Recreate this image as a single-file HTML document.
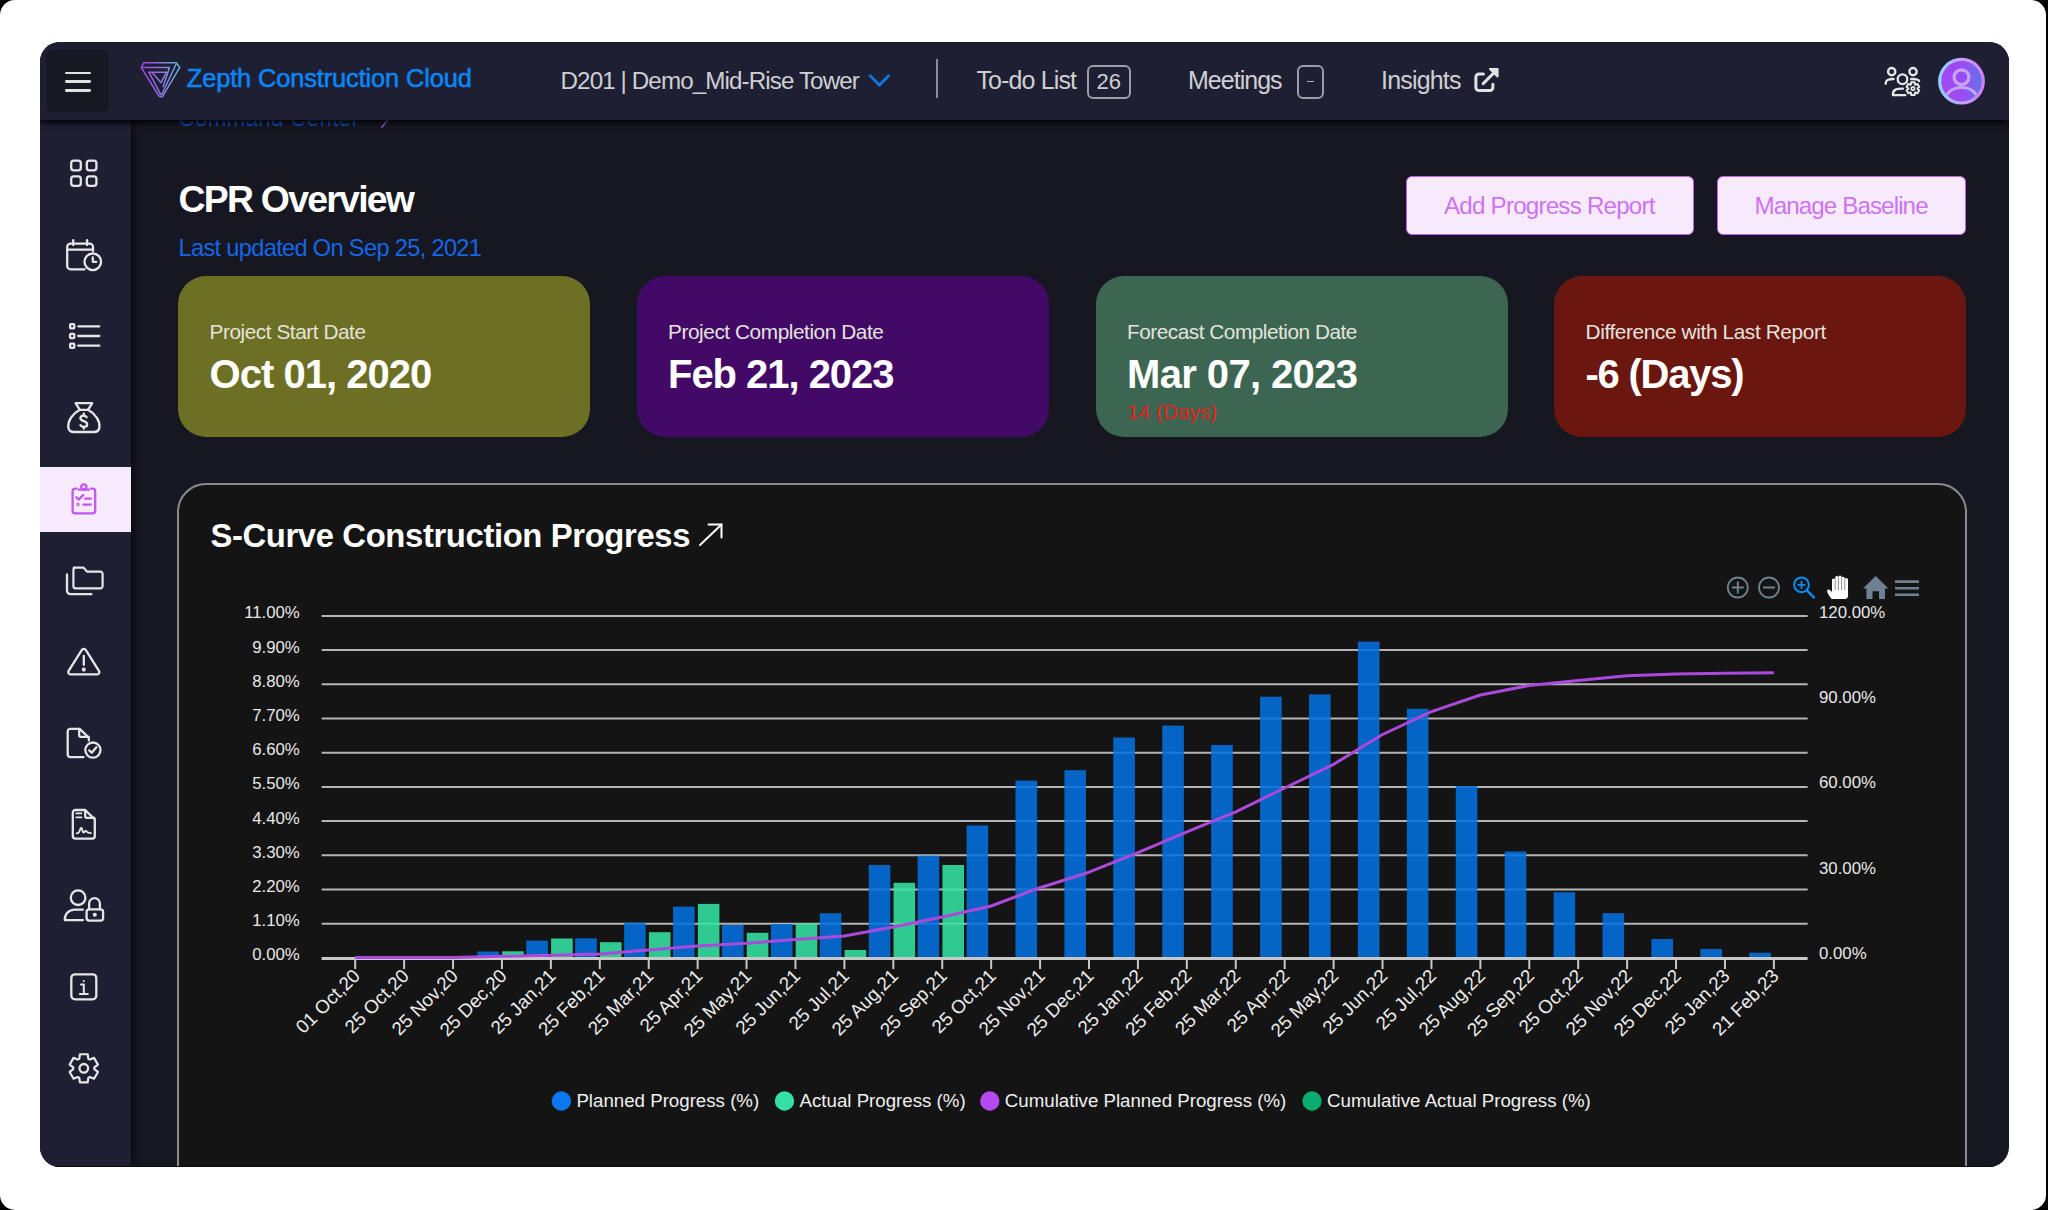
<!DOCTYPE html>
<html><head><meta charset="utf-8"><title>CPR Overview</title>
<style>
*{margin:0;padding:0;box-sizing:border-box}
html,body{width:2048px;height:1210px;overflow:hidden;background:#000}
body{font-family:"Liberation Sans", sans-serif;position:relative}
.abs{position:absolute}
#outer{position:absolute;left:0;top:0;width:2046px;height:1210px;background:#fff;border-radius:15px}
#app{position:absolute;left:40px;top:42px;width:1969px;height:1125px;border-radius:20px;overflow:hidden;background:#171722}
#pg{position:absolute;left:-40px;top:-42px;width:2048px;height:1210px}
.t{position:absolute;white-space:nowrap;line-height:1}
</style></head>
<body>
<div id="outer"></div>
<div id="app"><div id="pg">
<div class="abs" style="left:40px;top:42px;width:1969px;height:78px;background:#1e1f32;box-shadow:0 3px 6px rgba(0,0,0,.9);z-index:3"></div>
<div class="abs" style="left:46px;top:50px;width:63px;height:62px;background:#181823;border-radius:7px;z-index:4"></div>
<div class="abs" style="left:65px;top:71.6px;width:25.6px;height:2.8px;background:#e2e2e2;border-radius:1.4px;z-index:5"></div>
<div class="abs" style="left:65px;top:80.3px;width:25.6px;height:2.8px;background:#e2e2e2;border-radius:1.4px;z-index:5"></div>
<div class="abs" style="left:65px;top:89.0px;width:25.6px;height:2.8px;background:#e2e2e2;border-radius:1.4px;z-index:5"></div>
<svg class="abs" style="left:136px;top:56px;z-index:5" width="50" height="46" viewBox="0 0 1315 1210" fill="none" stroke="url(#lg)" stroke-width="40" stroke-linejoin="round" stroke-linecap="round">
<defs><linearGradient id="lg" gradientUnits="userSpaceOnUse" x1="120" y1="0" x2="1170" y2="0"><stop offset="0" stop-color="#a63fe0"/><stop offset="0.55" stop-color="#8a7ae0"/><stop offset="1" stop-color="#5fb4d8"/></linearGradient></defs>
<path d="M135,300 L205,180 L1065,180 L1150,300 L700,1060 Q650,1090 600,1050 Z"/>
<path d="M150,300 L880,300 L715,805"/>
<path d="M1060,205 L675,1020"/>
<path d="M340,425 L805,425 L655,700 L435,445"/>
<path d="M340,425 L650,1015"/>
</svg>
<div class="t" style="left:186.80px;top:66.31px;font-size:25.40px;color:#0a85f5;z-index:6;letter-spacing:-0.123px;-webkit-text-stroke:0.6px #0a85f5;">Zepth Construction Cloud</div>
<div class="t" style="left:560.50px;top:68.73px;font-size:24.20px;color:#cfcfd3;z-index:6;letter-spacing:-0.897px;">D201 | Demo_Mid-Rise Tower</div>
<svg class="abs" style="left:866px;top:70px;z-index:5" width="26" height="20" viewBox="0 0 26 20" fill="none" stroke="#0a74dc" stroke-width="3" stroke-linecap="round" stroke-linejoin="round"><path d="M4.2,5.8 L13.5,15.1 L22.6,5.8"/></svg>
<div class="abs" style="left:935.5px;top:59px;width:2px;height:39px;background:#8c8c94;z-index:5"></div>
<div class="t" style="left:976.40px;top:68.25px;font-size:25.00px;color:#cfcfd3;z-index:6;letter-spacing:-0.865px;">To-do List</div>
<div class="abs" style="left:1087px;top:64.5px;width:44px;height:34px;border:2px solid #9c9ca6;border-radius:6px;z-index:5"></div>
<div class="t" style="left:1096.50px;top:70.80px;font-size:22.00px;color:#cfcfd3;z-index:6;">26</div>
<div class="t" style="left:1188.00px;top:68.25px;font-size:25.00px;color:#cfcfd3;z-index:6;letter-spacing:-0.978px;">Meetings</div>
<div class="abs" style="left:1297px;top:64.5px;width:27px;height:34px;border:2px solid #9c9ca6;border-radius:6px;z-index:5"></div>
<div class="abs" style="left:1307px;top:80.5px;width:7px;height:1.6px;background:#b0b0b8;z-index:5"></div>
<div class="t" style="left:1381.00px;top:68.25px;font-size:25.00px;color:#cfcfd3;z-index:6;letter-spacing:-0.808px;">Insights</div>
<svg class="abs" style="left:1470px;top:64px;z-index:5" width="32" height="32" viewBox="0 0 32 32" fill="none" stroke="#e2e2e6" stroke-width="3" stroke-linecap="round" stroke-linejoin="round">
<path d="M13.4,9.9 H9 a3.1,3.1 0 0 0 -3.1,3.1 V23.4 a3.1,3.1 0 0 0 3.1,3.1 H19.8 a3.1,3.1 0 0 0 3.1,-3.1 V20.3"/><path d="M13.2,19.6 L24.5,8.3"/>
<path d="M20,5 H27.6 V12.6 Z" fill="#e2e2e6" stroke-width="2"/></svg>
<svg class="abs" style="left:1876px;top:52px;z-index:5" width="120" height="60" viewBox="0 0 2048 1024" fill="none" stroke="#e6e6e6" stroke-width="40" stroke-linecap="round" stroke-linejoin="round">
<circle cx="268" cy="335" r="62"/><circle cx="632" cy="335" r="62"/><circle cx="452" cy="465" r="82"/>
<path d="M165,540 C165,480 200,460 300,460"/><path d="M600,460 C690,460 730,470 735,495"/>
<path d="M290,720 C290,650 330,625 460,625"/><path d="M290,720 L290,735 L500,735"/>
<path d="M595.92,552.62 L600.13,517.06 L659.87,517.06 L664.08,552.62 L675.65,559.30 L708.54,545.16 L738.42,596.90 L709.72,618.32 L709.72,631.68 L738.42,653.10 L708.54,704.84 L675.65,690.70 L664.08,697.38 L659.87,732.94 L600.13,732.94 L595.92,697.38 L584.35,690.70 L551.46,704.84 L521.58,653.10 L550.28,631.68 L550.28,618.32 L521.58,596.90 L551.46,545.16 L584.35,559.30Z" stroke-width="34"/><circle cx="630" cy="625" r="28" stroke-width="30"/>
</svg>
<svg class="abs" style="left:1936px;top:56px;z-index:5" width="52" height="52" viewBox="0 0 52 52">
<defs><linearGradient id="ar" x1="0" y1="0" x2="1" y2="0"><stop offset="0" stop-color="#92d2fa"/><stop offset="0.5" stop-color="#c2a2f6"/><stop offset="1" stop-color="#d47ef4"/></linearGradient>
<linearGradient id="af" x1="0" y1="0" x2="1" y2="0"><stop offset="0" stop-color="#a545f5"/><stop offset="0.55" stop-color="#9a4cf2"/><stop offset="1" stop-color="#5a78e6"/></linearGradient>
<clipPath id="ac"><circle cx="25.5" cy="25.2" r="20"/></clipPath></defs>
<circle cx="25.5" cy="25.2" r="21.8" fill="url(#af)" stroke="url(#ar)" stroke-width="3.2"/>
<g clip-path="url(#ac)" fill="none" stroke="#c3a6f6" stroke-width="3.2"><circle cx="25.5" cy="21.2" r="7.4"/><path d="M8,46 C10,36 17,31.5 25.5,31.5 C34,31.5 41,36 43,46"/></g>
</svg>
<div class="t" style="left:178.50px;top:108.34px;font-size:22.30px;color:#0b55c8;z-index:1;letter-spacing:0.346px;">Command Center</div>
<svg class="abs" style="left:376px;top:108px;z-index:1" width="16" height="24" viewBox="0 0 16 24" fill="none" stroke="#8a5ae0" stroke-width="1.8" stroke-linecap="round"><path d="M6,5 L11.5,12 L6,19"/></svg>
<div class="t" style="left:178.50px;top:181.41px;font-size:37.40px;color:#ffffff;z-index:6;font-weight:bold;letter-spacing:-1.744px;">CPR Overview</div>
<div class="t" style="left:178.50px;top:236.74px;font-size:23.60px;color:#1467e6;z-index:6;letter-spacing:-0.666px;">Last updated On Sep 25, 2021</div>
<div class="abs" style="left:1406px;top:176px;width:288px;height:59px;background:#f8eafd;border:1px solid #c35cf2;border-radius:6px;z-index:2"></div>
<div class="abs" style="left:1717px;top:176px;width:249px;height:59px;background:#f8eafd;border:1px solid #c35cf2;border-radius:6px;z-index:2"></div>
<div class="t" style="left:1444.00px;top:194.13px;font-size:24.20px;color:#cc74f2;z-index:6;letter-spacing:-0.799px;">Add Progress Report</div>
<div class="t" style="left:1754.40px;top:194.13px;font-size:24.20px;color:#cc74f2;z-index:6;letter-spacing:-0.908px;">Manage Baseline</div>
<div class="abs" style="left:178px;top:275.5px;width:412px;height:161px;background:#6d6f24;border-radius:28px;z-index:1"></div>
<div class="t" style="left:209.50px;top:322.22px;font-size:20.80px;color:#e4e3de;z-index:6;letter-spacing:-0.451px;">Project Start Date</div>
<div class="t" style="left:209.50px;top:354.20px;font-size:40.00px;color:#ffffff;z-index:6;font-weight:bold;letter-spacing:-0.973px;">Oct 01, 2020</div>
<div class="abs" style="left:636.5px;top:275.5px;width:412px;height:161px;background:#420a66;border-radius:28px;z-index:1"></div>
<div class="t" style="left:668.00px;top:322.22px;font-size:20.80px;color:#e4e3de;z-index:6;letter-spacing:-0.434px;">Project Completion Date</div>
<div class="t" style="left:668.00px;top:354.20px;font-size:40.00px;color:#ffffff;z-index:6;font-weight:bold;letter-spacing:-1.039px;">Feb 21, 2023</div>
<div class="abs" style="left:1095.5px;top:275.5px;width:412px;height:161px;background:#3c6651;border-radius:28px;z-index:1"></div>
<div class="t" style="left:1127.00px;top:322.22px;font-size:20.80px;color:#e4e3de;z-index:6;letter-spacing:-0.488px;">Forecast Completion Date</div>
<div class="t" style="left:1127.00px;top:354.20px;font-size:40.00px;color:#ffffff;z-index:6;font-weight:bold;letter-spacing:-0.623px;">Mar 07, 2023</div>
<div class="abs" style="left:1554px;top:275.5px;width:412px;height:161px;background:#6b160e;border-radius:28px;z-index:1"></div>
<div class="t" style="left:1585.50px;top:322.22px;font-size:20.80px;color:#e4e3de;z-index:6;letter-spacing:-0.373px;">Difference with Last Report</div>
<div class="t" style="left:1585.50px;top:354.20px;font-size:40.00px;color:#ffffff;z-index:6;font-weight:bold;letter-spacing:-1.244px;">-6 (Days)</div>
<div class="t" style="left:1127.30px;top:402.32px;font-size:20.80px;color:#e8201a;z-index:6;letter-spacing:-0.020px;">14 (Days)</div>
<div class="abs" style="left:177.3px;top:483.3px;width:1789.4px;height:760px;background:#141414;border:2px solid #8a8a8e;border-radius:29px;z-index:1"></div>
<div class="t" style="left:210.40px;top:519.52px;font-size:32.80px;color:#ffffff;z-index:6;font-weight:bold;letter-spacing:-0.364px;">S-Curve Construction Progress</div>
<svg class="abs" style="left:696px;top:520px;z-index:6" width="30" height="30" viewBox="0 0 30 30" fill="none" stroke="#ffffff" stroke-width="2" stroke-linecap="round" stroke-linejoin="round"><path d="M4,25 L25.5,4.5"/><path d="M12.5,4.5 H25.5 V17.5"/></svg>
<svg class="abs" style="left:0;top:0;z-index:4" width="2048" height="1210" viewBox="0 0 2048 1210" font-family="Liberation Sans, sans-serif"><line x1="321.6" y1="615.90" x2="1807.6" y2="615.90" stroke="#b4b4b4" stroke-width="2"/><line x1="321.6" y1="650.10" x2="1807.6" y2="650.10" stroke="#b4b4b4" stroke-width="2"/><line x1="321.6" y1="684.30" x2="1807.6" y2="684.30" stroke="#b4b4b4" stroke-width="2"/><line x1="321.6" y1="718.50" x2="1807.6" y2="718.50" stroke="#b4b4b4" stroke-width="2"/><line x1="321.6" y1="752.70" x2="1807.6" y2="752.70" stroke="#b4b4b4" stroke-width="2"/><line x1="321.6" y1="786.90" x2="1807.6" y2="786.90" stroke="#b4b4b4" stroke-width="2"/><line x1="321.6" y1="821.10" x2="1807.6" y2="821.10" stroke="#b4b4b4" stroke-width="2"/><line x1="321.6" y1="855.30" x2="1807.6" y2="855.30" stroke="#b4b4b4" stroke-width="2"/><line x1="321.6" y1="889.50" x2="1807.6" y2="889.50" stroke="#b4b4b4" stroke-width="2"/><line x1="321.6" y1="923.70" x2="1807.6" y2="923.70" stroke="#b4b4b4" stroke-width="2"/><rect x="477.36" y="951.50" width="21.6" height="6.90" fill="#0371e0" fill-opacity="0.88"/><rect x="502.16" y="951.30" width="21.6" height="7.10" fill="#35e2a4" fill-opacity="0.88"/><rect x="526.28" y="940.60" width="21.6" height="17.80" fill="#0371e0" fill-opacity="0.88"/><rect x="551.08" y="938.50" width="21.6" height="19.90" fill="#35e2a4" fill-opacity="0.88"/><rect x="575.20" y="938.30" width="21.6" height="20.10" fill="#0371e0" fill-opacity="0.88"/><rect x="600.00" y="942.20" width="21.6" height="16.20" fill="#35e2a4" fill-opacity="0.88"/><rect x="624.12" y="922.70" width="21.6" height="35.70" fill="#0371e0" fill-opacity="0.88"/><rect x="648.92" y="932.20" width="21.6" height="26.20" fill="#35e2a4" fill-opacity="0.88"/><rect x="673.04" y="906.60" width="21.6" height="51.80" fill="#0371e0" fill-opacity="0.88"/><rect x="697.84" y="903.90" width="21.6" height="54.50" fill="#35e2a4" fill-opacity="0.88"/><rect x="721.96" y="925.00" width="21.6" height="33.40" fill="#0371e0" fill-opacity="0.88"/><rect x="746.76" y="932.80" width="21.6" height="25.60" fill="#35e2a4" fill-opacity="0.88"/><rect x="770.88" y="924.00" width="21.6" height="34.40" fill="#0371e0" fill-opacity="0.88"/><rect x="795.68" y="923.40" width="21.6" height="35.00" fill="#35e2a4" fill-opacity="0.88"/><rect x="819.80" y="913.30" width="21.6" height="45.10" fill="#0371e0" fill-opacity="0.88"/><rect x="844.60" y="950.00" width="21.6" height="8.40" fill="#35e2a4" fill-opacity="0.88"/><rect x="868.72" y="865.00" width="21.6" height="93.40" fill="#0371e0" fill-opacity="0.88"/><rect x="893.52" y="882.80" width="21.6" height="75.60" fill="#35e2a4" fill-opacity="0.88"/><rect x="917.64" y="855.70" width="21.6" height="102.70" fill="#0371e0" fill-opacity="0.88"/><rect x="942.44" y="865.00" width="21.6" height="93.40" fill="#35e2a4" fill-opacity="0.88"/><rect x="966.56" y="825.50" width="21.6" height="132.90" fill="#0371e0" fill-opacity="0.88"/><rect x="1015.48" y="780.60" width="21.6" height="177.80" fill="#0371e0" fill-opacity="0.88"/><rect x="1064.40" y="770.20" width="21.6" height="188.20" fill="#0371e0" fill-opacity="0.88"/><rect x="1113.32" y="737.50" width="21.6" height="220.90" fill="#0371e0" fill-opacity="0.88"/><rect x="1162.24" y="725.60" width="21.6" height="232.80" fill="#0371e0" fill-opacity="0.88"/><rect x="1211.16" y="745.00" width="21.6" height="213.40" fill="#0371e0" fill-opacity="0.88"/><rect x="1260.08" y="696.70" width="21.6" height="261.70" fill="#0371e0" fill-opacity="0.88"/><rect x="1309.00" y="694.40" width="21.6" height="264.00" fill="#0371e0" fill-opacity="0.88"/><rect x="1357.92" y="641.70" width="21.6" height="316.70" fill="#0371e0" fill-opacity="0.88"/><rect x="1406.84" y="708.70" width="21.6" height="249.70" fill="#0371e0" fill-opacity="0.88"/><rect x="1455.76" y="786.00" width="21.6" height="172.40" fill="#0371e0" fill-opacity="0.88"/><rect x="1504.68" y="851.50" width="21.6" height="106.90" fill="#0371e0" fill-opacity="0.88"/><rect x="1553.60" y="892.30" width="21.6" height="66.10" fill="#0371e0" fill-opacity="0.88"/><rect x="1602.52" y="913.20" width="21.6" height="45.20" fill="#0371e0" fill-opacity="0.88"/><rect x="1651.44" y="939.00" width="21.6" height="19.40" fill="#0371e0" fill-opacity="0.88"/><rect x="1700.36" y="948.90" width="21.6" height="9.50" fill="#0371e0" fill-opacity="0.88"/><rect x="1749.28" y="952.70" width="21.6" height="5.70" fill="#0371e0" fill-opacity="0.88"/><line x1="321.6" y1="958.4" x2="1807.6" y2="958.4" stroke="#c8c8c8" stroke-width="3"/><line x1="355.20" y1="958.4" x2="355.20" y2="969" stroke="#c8c8c8" stroke-width="2"/><line x1="404.12" y1="958.4" x2="404.12" y2="969" stroke="#c8c8c8" stroke-width="2"/><line x1="453.04" y1="958.4" x2="453.04" y2="969" stroke="#c8c8c8" stroke-width="2"/><line x1="501.96" y1="958.4" x2="501.96" y2="969" stroke="#c8c8c8" stroke-width="2"/><line x1="550.88" y1="958.4" x2="550.88" y2="969" stroke="#c8c8c8" stroke-width="2"/><line x1="599.80" y1="958.4" x2="599.80" y2="969" stroke="#c8c8c8" stroke-width="2"/><line x1="648.72" y1="958.4" x2="648.72" y2="969" stroke="#c8c8c8" stroke-width="2"/><line x1="697.64" y1="958.4" x2="697.64" y2="969" stroke="#c8c8c8" stroke-width="2"/><line x1="746.56" y1="958.4" x2="746.56" y2="969" stroke="#c8c8c8" stroke-width="2"/><line x1="795.48" y1="958.4" x2="795.48" y2="969" stroke="#c8c8c8" stroke-width="2"/><line x1="844.40" y1="958.4" x2="844.40" y2="969" stroke="#c8c8c8" stroke-width="2"/><line x1="893.32" y1="958.4" x2="893.32" y2="969" stroke="#c8c8c8" stroke-width="2"/><line x1="942.24" y1="958.4" x2="942.24" y2="969" stroke="#c8c8c8" stroke-width="2"/><line x1="991.16" y1="958.4" x2="991.16" y2="969" stroke="#c8c8c8" stroke-width="2"/><line x1="1040.08" y1="958.4" x2="1040.08" y2="969" stroke="#c8c8c8" stroke-width="2"/><line x1="1089.00" y1="958.4" x2="1089.00" y2="969" stroke="#c8c8c8" stroke-width="2"/><line x1="1137.92" y1="958.4" x2="1137.92" y2="969" stroke="#c8c8c8" stroke-width="2"/><line x1="1186.84" y1="958.4" x2="1186.84" y2="969" stroke="#c8c8c8" stroke-width="2"/><line x1="1235.76" y1="958.4" x2="1235.76" y2="969" stroke="#c8c8c8" stroke-width="2"/><line x1="1284.68" y1="958.4" x2="1284.68" y2="969" stroke="#c8c8c8" stroke-width="2"/><line x1="1333.60" y1="958.4" x2="1333.60" y2="969" stroke="#c8c8c8" stroke-width="2"/><line x1="1382.52" y1="958.4" x2="1382.52" y2="969" stroke="#c8c8c8" stroke-width="2"/><line x1="1431.44" y1="958.4" x2="1431.44" y2="969" stroke="#c8c8c8" stroke-width="2"/><line x1="1480.36" y1="958.4" x2="1480.36" y2="969" stroke="#c8c8c8" stroke-width="2"/><line x1="1529.28" y1="958.4" x2="1529.28" y2="969" stroke="#c8c8c8" stroke-width="2"/><line x1="1578.20" y1="958.4" x2="1578.20" y2="969" stroke="#c8c8c8" stroke-width="2"/><line x1="1627.12" y1="958.4" x2="1627.12" y2="969" stroke="#c8c8c8" stroke-width="2"/><line x1="1676.04" y1="958.4" x2="1676.04" y2="969" stroke="#c8c8c8" stroke-width="2"/><line x1="1724.96" y1="958.4" x2="1724.96" y2="969" stroke="#c8c8c8" stroke-width="2"/><line x1="1773.88" y1="958.4" x2="1773.88" y2="969" stroke="#c8c8c8" stroke-width="2"/><polyline points="355.20,957.60 404.12,957.60 453.04,957.40 501.96,956.30 550.88,955.30 599.80,954.00 648.72,950.00 697.64,946.10 746.56,943.20 795.48,939.60 844.40,936.00 893.32,927.00 942.24,917.00 991.16,906.00 1040.08,887.70 1089.00,872.20 1137.92,852.60 1186.84,831.80 1235.76,811.80 1284.68,788.00 1333.60,764.30 1382.52,734.50 1431.44,711.60 1480.36,695.00 1529.28,685.50 1578.20,680.40 1627.12,675.70 1676.04,673.90 1724.96,673.30 1773.88,672.70" fill="none" stroke="#aa49dc" stroke-width="3" stroke-linejoin="round" stroke-linecap="butt"/><text x="299.8" y="618.30" text-anchor="end" font-size="16.8" fill="#e8e8e8">11.00%</text><text x="299.8" y="652.50" text-anchor="end" font-size="16.8" fill="#e8e8e8">9.90%</text><text x="299.8" y="686.70" text-anchor="end" font-size="16.8" fill="#e8e8e8">8.80%</text><text x="299.8" y="720.90" text-anchor="end" font-size="16.8" fill="#e8e8e8">7.70%</text><text x="299.8" y="755.10" text-anchor="end" font-size="16.8" fill="#e8e8e8">6.60%</text><text x="299.8" y="789.30" text-anchor="end" font-size="16.8" fill="#e8e8e8">5.50%</text><text x="299.8" y="823.50" text-anchor="end" font-size="16.8" fill="#e8e8e8">4.40%</text><text x="299.8" y="857.70" text-anchor="end" font-size="16.8" fill="#e8e8e8">3.30%</text><text x="299.8" y="891.90" text-anchor="end" font-size="16.8" fill="#e8e8e8">2.20%</text><text x="299.8" y="926.10" text-anchor="end" font-size="16.8" fill="#e8e8e8">1.10%</text><text x="299.8" y="960.30" text-anchor="end" font-size="16.8" fill="#e8e8e8">0.00%</text><text x="1819" y="617.60" font-size="16.8" fill="#e8e8e8">120.00%</text><text x="1819" y="702.90" font-size="16.8" fill="#e8e8e8">90.00%</text><text x="1819" y="788.20" font-size="16.8" fill="#e8e8e8">60.00%</text><text x="1819" y="873.50" font-size="16.8" fill="#e8e8e8">30.00%</text><text x="1819" y="958.80" font-size="16.8" fill="#e8e8e8">0.00%</text><text x="361.20" y="977.00" text-anchor="end" font-size="18.8" fill="#ececec" transform="rotate(-45 361.20 977)">01 Oct,20</text><text x="410.12" y="977.00" text-anchor="end" font-size="18.8" fill="#ececec" transform="rotate(-45 410.12 977)">25 Oct,20</text><text x="459.04" y="977.00" text-anchor="end" font-size="18.8" fill="#ececec" transform="rotate(-45 459.04 977)">25 Nov,20</text><text x="507.96" y="977.00" text-anchor="end" font-size="18.8" fill="#ececec" transform="rotate(-45 507.96 977)">25 Dec,20</text><text x="556.88" y="977.00" text-anchor="end" font-size="18.8" fill="#ececec" transform="rotate(-45 556.88 977)">25 Jan,21</text><text x="605.80" y="977.00" text-anchor="end" font-size="18.8" fill="#ececec" transform="rotate(-45 605.80 977)">25 Feb,21</text><text x="654.72" y="977.00" text-anchor="end" font-size="18.8" fill="#ececec" transform="rotate(-45 654.72 977)">25 Mar,21</text><text x="703.64" y="977.00" text-anchor="end" font-size="18.8" fill="#ececec" transform="rotate(-45 703.64 977)">25 Apr,21</text><text x="752.56" y="977.00" text-anchor="end" font-size="18.8" fill="#ececec" transform="rotate(-45 752.56 977)">25 May,21</text><text x="801.48" y="977.00" text-anchor="end" font-size="18.8" fill="#ececec" transform="rotate(-45 801.48 977)">25 Jun,21</text><text x="850.40" y="977.00" text-anchor="end" font-size="18.8" fill="#ececec" transform="rotate(-45 850.40 977)">25 Jul,21</text><text x="899.32" y="977.00" text-anchor="end" font-size="18.8" fill="#ececec" transform="rotate(-45 899.32 977)">25 Aug,21</text><text x="948.24" y="977.00" text-anchor="end" font-size="18.8" fill="#ececec" transform="rotate(-45 948.24 977)">25 Sep,21</text><text x="997.16" y="977.00" text-anchor="end" font-size="18.8" fill="#ececec" transform="rotate(-45 997.16 977)">25 Oct,21</text><text x="1046.08" y="977.00" text-anchor="end" font-size="18.8" fill="#ececec" transform="rotate(-45 1046.08 977)">25 Nov,21</text><text x="1095.00" y="977.00" text-anchor="end" font-size="18.8" fill="#ececec" transform="rotate(-45 1095.00 977)">25 Dec,21</text><text x="1143.92" y="977.00" text-anchor="end" font-size="18.8" fill="#ececec" transform="rotate(-45 1143.92 977)">25 Jan,22</text><text x="1192.84" y="977.00" text-anchor="end" font-size="18.8" fill="#ececec" transform="rotate(-45 1192.84 977)">25 Feb,22</text><text x="1241.76" y="977.00" text-anchor="end" font-size="18.8" fill="#ececec" transform="rotate(-45 1241.76 977)">25 Mar,22</text><text x="1290.68" y="977.00" text-anchor="end" font-size="18.8" fill="#ececec" transform="rotate(-45 1290.68 977)">25 Apr,22</text><text x="1339.60" y="977.00" text-anchor="end" font-size="18.8" fill="#ececec" transform="rotate(-45 1339.60 977)">25 May,22</text><text x="1388.52" y="977.00" text-anchor="end" font-size="18.8" fill="#ececec" transform="rotate(-45 1388.52 977)">25 Jun,22</text><text x="1437.44" y="977.00" text-anchor="end" font-size="18.8" fill="#ececec" transform="rotate(-45 1437.44 977)">25 Jul,22</text><text x="1486.36" y="977.00" text-anchor="end" font-size="18.8" fill="#ececec" transform="rotate(-45 1486.36 977)">25 Aug,22</text><text x="1535.28" y="977.00" text-anchor="end" font-size="18.8" fill="#ececec" transform="rotate(-45 1535.28 977)">25 Sep,22</text><text x="1584.20" y="977.00" text-anchor="end" font-size="18.8" fill="#ececec" transform="rotate(-45 1584.20 977)">25 Oct,22</text><text x="1633.12" y="977.00" text-anchor="end" font-size="18.8" fill="#ececec" transform="rotate(-45 1633.12 977)">25 Nov,22</text><text x="1682.04" y="977.00" text-anchor="end" font-size="18.8" fill="#ececec" transform="rotate(-45 1682.04 977)">25 Dec,22</text><text x="1730.96" y="977.00" text-anchor="end" font-size="18.8" fill="#ececec" transform="rotate(-45 1730.96 977)">25 Jan,23</text><text x="1779.88" y="977.00" text-anchor="end" font-size="18.8" fill="#ececec" transform="rotate(-45 1779.88 977)">21 Feb,23</text><circle cx="561.4" cy="1101" r="9.7" fill="#0b78f2"/><text x="576.40" y="1107.4" font-size="18.7" fill="#f0f0f0">Planned Progress (%)</text><circle cx="784.5" cy="1101" r="9.7" fill="#34e0a6"/><text x="799.50" y="1107.4" font-size="18.7" fill="#f0f0f0">Actual Progress (%)</text><circle cx="989.8" cy="1101" r="9.7" fill="#b44af0"/><text x="1004.80" y="1107.4" font-size="18.7" fill="#f0f0f0">Cumulative Planned Progress (%)</text><circle cx="1312" cy="1101" r="9.7" fill="#07ad6d"/><text x="1327.00" y="1107.4" font-size="18.7" fill="#f0f0f0">Cumulative Actual Progress (%)</text><g fill="none" stroke="#6e8192" stroke-width="1.8"><circle cx="1737.8" cy="587.5" r="10"/><path d="M1731.8,587.5 H1743.8 M1737.8,581.5 V593.5" stroke-width="2"/><circle cx="1769" cy="587.5" r="10"/><path d="M1763,587.5 H1775" stroke-width="2"/></g><g fill="none" stroke="#008ffb" stroke-width="2"><circle cx="1801.5" cy="584.8" r="7.4"/><path d="M1806.8,590.3 L1814.6,598.2" stroke-width="2.4"/><path d="M1797.6,584.8 H1805.4 M1801.5,580.9 V588.7" stroke-width="1.8"/></g><path d="M1831.5,599 C1829,595.5 1826.8,592.5 1827.2,590.6 C1827.8,588.6 1830,589.5 1832,592 V580 a1.6,1.6 0 0 1 3.2,0 V577.6 a1.6,1.6 0 0 1 3.2,0 V577 a1.6,1.6 0 0 1 3.2,0 V578.4 a1.6,1.6 0 0 1 3.2,0 V579.6 a1.6,1.6 0 0 1 3.2,0 V594 C1848.8,597 1847,599 1844.5,599 Z" fill="#ffffff"/><path d="M1835.2,580 V590 M1838.4,577.6 V590 M1841.6,578.4 V590 M1844.8,579.6 V590" stroke="#6e8192" stroke-width="0.9"/><path d="M1863,588.5 L1875.7,576 L1888.5,588.5 H1885 V599 H1879 V591.2 H1872.5 V599 H1866.4 V588.5 Z" fill="#6e8192"/><path d="M1895,581.6 H1919 M1895,588.2 H1919 M1895,594.8 H1919" stroke="#6e8192" stroke-width="2.6"/></svg>
<div class="abs" style="left:40px;top:1166px;width:1969px;height:1px;background:#0b0b0e;z-index:9"></div>
<div class="abs" style="left:40px;top:120px;width:91px;height:1046px;background:#1e1f32;box-shadow:2px 0 7px rgba(0,0,0,.7);z-index:2"></div>
<div class="abs" style="left:39px;top:467px;width:92px;height:65px;background:#f7eafd;z-index:2"></div>
<svg class="abs" style="left:0;top:0;z-index:3" width="140" height="1166" viewBox="0 0 140 1166" fill="none" stroke="#e6e6e6" stroke-width="2.3" stroke-linecap="round" stroke-linejoin="round">
<!-- grid -->
<rect x="71.2" y="160.7" width="9.6" height="9.6" rx="2.6"/><rect x="86.8" y="160.7" width="9.6" height="9.6" rx="2.6"/>
<rect x="71.2" y="176.3" width="9.6" height="9.6" rx="2.6"/><rect x="86.8" y="176.3" width="9.6" height="9.6" rx="2.6"/>
<!-- calendar clock -->
<path d="M84.5,269.3 H70.6 a3.4,3.4 0 0 1 -3.4,-3.4 V247 a3.4,3.4 0 0 1 3.4,-3.4 H89.6 a3.4,3.4 0 0 1 3.4,3.4 V251"/>
<path d="M67.2,249.6 H93"/><path d="M73.2,240.2 V245"/><path d="M87.1,240.2 V245"/>
<circle cx="92.8" cy="261.8" r="8.3"/><path d="M92.8,257.3 V261.8 H96.3"/>
<!-- list -->
<rect x="70.1" y="324.2" width="4.2" height="4.2" rx="0.8"/><rect x="70.1" y="333.9" width="4.2" height="4.2" rx="0.8"/><rect x="70.1" y="343.6" width="4.2" height="4.2" rx="0.8"/>
<path d="M78.3,326.3 H99.3"/><path d="M78.3,336 H99.3"/><path d="M78.3,345.7 H99.3"/>
<!-- money bag -->
<path d="M79.8,409.8 L75.6,403.2 H92.2 L88,409.8 Z"/>
<path d="M79.8,409.8 C72,414 67.6,421 68.3,427.5 C68.8,430.8 70.6,432 74,432 H93.8 C97.2,432 99,430.8 99.4,427.5 C100.2,421 95.8,414 88,409.8"/>
<path d="M86.6,417.2 C85.8,416 84.9,415.6 83.6,415.6 C81.6,415.6 80.4,416.8 80.4,418.3 C80.4,421.8 87.2,420.4 87.2,424.2 C87.2,425.8 85.8,426.9 83.8,426.9 C82.3,426.9 81.2,426.3 80.4,425.1"/><path d="M83.8,413.6 V415.6 M83.8,426.9 V428.7"/>
<!-- clipboard (active) -->
<g stroke="#c257f0">
<path d="M76.6,488.6 H75.2 a2.6,2.6 0 0 0 -2.6,2.6 V510.8 a2.6,2.6 0 0 0 2.6,2.6 H92.6 a2.6,2.6 0 0 0 2.6,-2.6 V491.2 a2.6,2.6 0 0 0 -2.6,-2.6 H91"/>
<path d="M78.6,489.6 H89"/><circle cx="83.8" cy="486.9" r="2.6"/>
<path d="M76.4,497.2 L78.7,499.6 L83.2,495"/><path d="M85.2,498.7 H90.8"/>
<circle cx="77.9" cy="504.6" r="0.6"/><path d="M83.4,504.6 H90.8"/>
</g>
<!-- folders -->
<path d="M73.8,567.6 H83.6 L87,571.6 H100.2 a2.4,2.4 0 0 1 2.4,2.4 V586 a2.4,2.4 0 0 1 -2.4,2.4 H75.8 a2.4,2.4 0 0 1 -2.4,-2.4 V570 a2.4,2.4 0 0 1 2.4,-2.4 Z" stroke-width="2.2"/>
<path d="M67,574.4 V590.6 a3.6,3.6 0 0 0 3.6,3.6 H91.4"/>
<!-- warning -->
<path d="M81.7,650.2 a2.4,2.4 0 0 1 4.2,0 L99.1,671.1 a2.2,2.2 0 0 1 -1.9,3.2 H70.4 a2.2,2.2 0 0 1 -1.9,-3.2 Z"/>
<path d="M83.8,655.9 V664.8"/><circle cx="83.8" cy="669.6" r="0.9" fill="#e6e6e6"/>
<!-- doc check -->
<path d="M83.6,757.1 H70.3 a2.6,2.6 0 0 1 -2.6,-2.6 V731.4 a2.6,2.6 0 0 1 2.6,-2.6 H79.6 L88.8,737.6 V740.5"/>
<path d="M79.2,729 V735.2 a1.6,1.6 0 0 0 1.6,1.6 H88.6"/>
<circle cx="92.9" cy="750.1" r="7.6"/><path d="M89.2,750.4 L91.7,752.7 L96.4,747.3"/>
<!-- doc signature -->
<path d="M85.2,810 H75.4 a2.6,2.6 0 0 0 -2.6,2.6 V836 a2.6,2.6 0 0 0 2.6,2.6 H92.2 a2.6,2.6 0 0 0 2.6,-2.6 V819.4 Z"/>
<path d="M85.2,810.4 V816.2 a1.6,1.6 0 0 0 1.6,1.6 H94.4"/>
<path d="M76.3,813.4 H81.4 M76.3,817.4 H81.4" stroke-width="1.9"/>
<path d="M76.6,833.4 C78.5,833.4 79.2,832.2 79.8,830.5 C80.3,828.4 81.3,826.8 82,828.8 C82.7,831 82.9,833.6 84.3,832.2 C85.3,831.1 85.6,830.1 86.6,831.5 C87.3,832.6 88.4,833.1 90.9,833.1" stroke-width="1.9"/>
<!-- user lock -->
<circle cx="78.1" cy="897.7" r="7.3"/>
<path d="M82.9,909.6 H75 C68.2,909.6 64.6,914.4 64.8,920.2 H82.9"/>
<rect x="86.6" y="909.3" width="16.5" height="11.3" rx="2.6"/><path d="M89.1,909.3 V903.6 a5.4,5.4 0 0 1 10.8,0 V909.3"/>
<circle cx="94.8" cy="914.7" r="0.9" fill="#e6e6e6"/>
<!-- info -->
<rect x="71.3" y="974.3" width="25" height="25" rx="3.6"/>
<circle cx="83.8" cy="981" r="1.1" fill="#e6e6e6" stroke="none"/>
<path d="M81,984.4 H83.8 V993.8 M79.8,994 H87.8" stroke-width="2"/>
<!-- gear -->
<path d="M79.29,1058.71 L79.91,1054.23 L87.69,1054.23 L88.31,1058.71 L89.85,1059.59 L94.04,1057.89 L97.93,1064.64 L94.36,1067.41 L94.36,1069.19 L97.93,1071.96 L94.04,1078.71 L89.85,1077.01 L88.31,1077.89 L87.69,1082.37 L79.91,1082.37 L79.29,1077.89 L77.75,1077.01 L73.56,1078.71 L69.67,1071.96 L73.24,1069.19 L73.24,1067.41 L69.67,1064.64 L73.56,1057.89 L77.75,1059.59Z" stroke-width="2.2"/>
<circle cx="83.8" cy="1068.3" r="4.3"/>
</svg>
</div></div>
</body></html>
